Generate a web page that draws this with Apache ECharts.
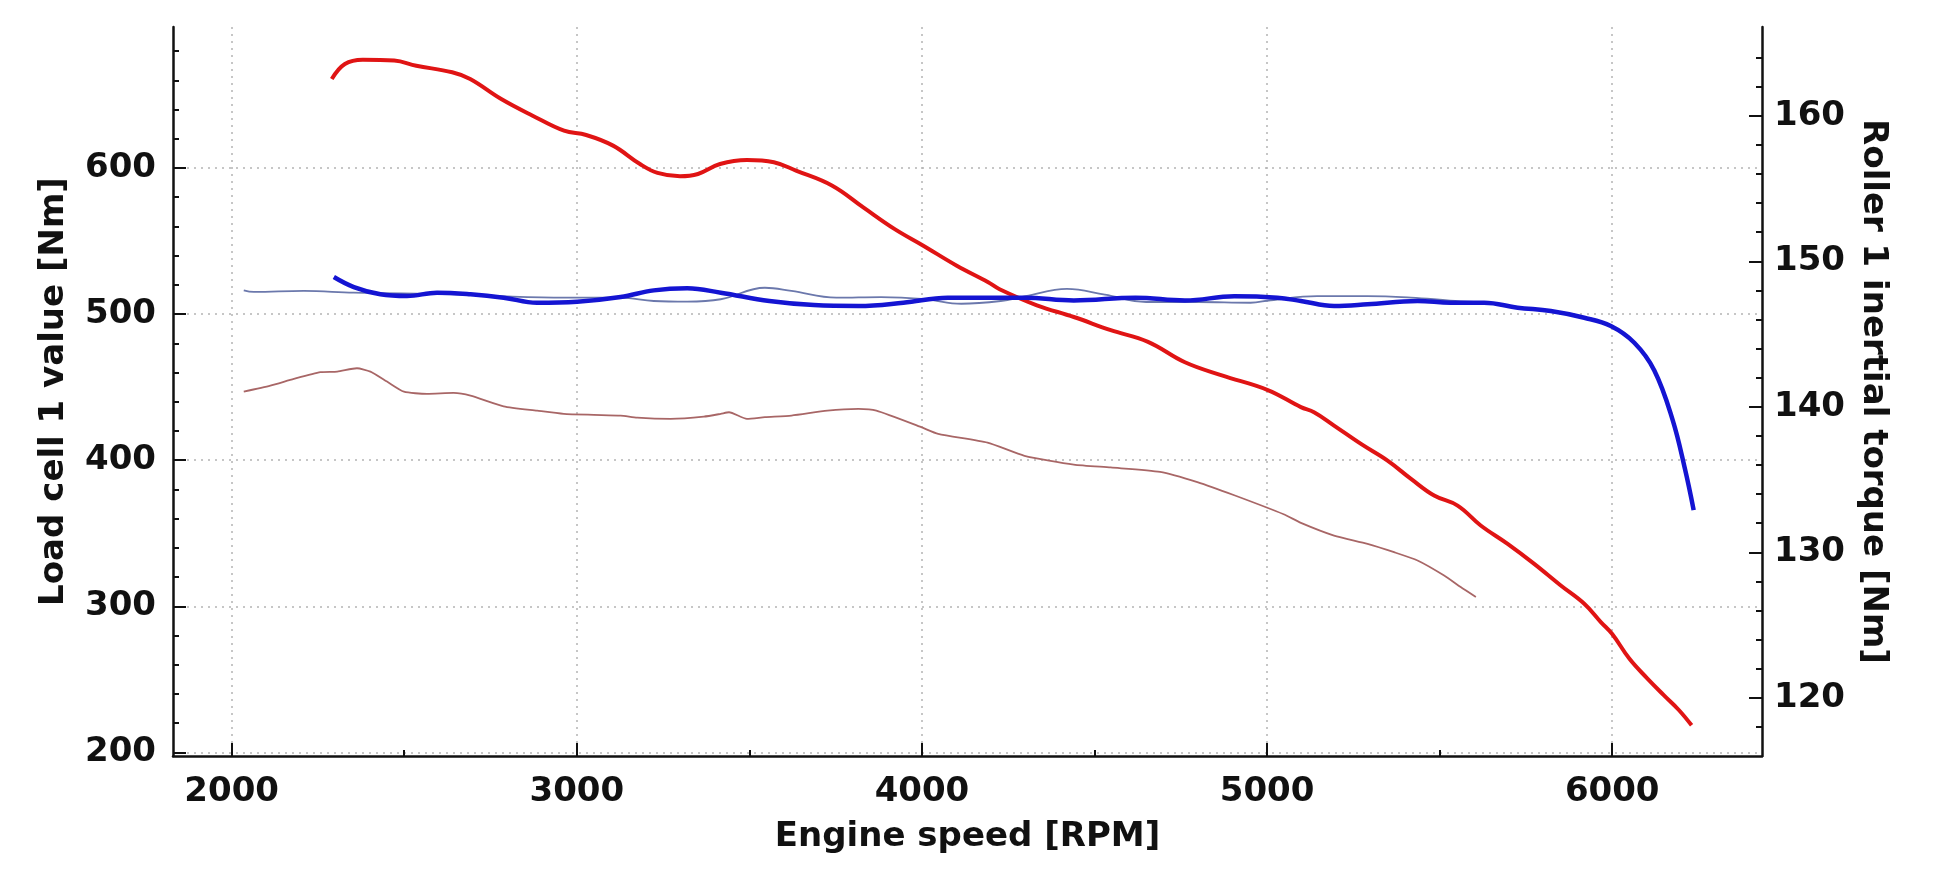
<!DOCTYPE html>
<html>
<head>
<meta charset="utf-8">
<script src="https://cdn.jsdelivr.net/npm/echarts@6/dist/echarts.min.js"></script>
<style>
  html, body { margin: 0; padding: 0; background: #fff; }
  #main { width: 1934px; height: 878px; }
</style>
</head>
<body>
<div id="main"></div>
<script>
// load cell, current run (thick red)
var redRpm = [2290, 2328, 2380, 2471, 2535, 2639, 2691, 2781, 2872, 2963, 3027, 3105, 3183, 3234, 3299, 3351, 3415, 3493, 3571, 3635, 3739, 3830, 3920, 4004, 4101, 4192, 4225, 4333, 4440, 4547, 4655, 4762, 4869, 5002, 5098, 5136, 5194, 5272, 5349, 5417, 5484, 5552, 5619, 5697, 5774, 5851, 5919, 5967, 6000, 6050, 6100, 6150, 6193, 6230];
var redNm = [660.9, 671.2, 674.1, 673.5, 670, 665.5, 660.9, 647.2, 635.8, 625.5, 622.6, 615.3, 602.7, 596.6, 594.3, 595.9, 602.7, 605.5, 603.9, 598.2, 588, 573, 558.3, 546.8, 533.1, 521.8, 517, 506, 498, 489, 481, 467, 458, 448, 436.3, 432.8, 423.7, 411.1, 399.7, 387.2, 375.8, 368.9, 355.3, 342.7, 329, 314.2, 301.7, 289.2, 281, 264, 251, 239, 229, 218.5];

// load cell, reference run (thin brown)
var brownRpm = [2035, 2112, 2180, 2257, 2306, 2363, 2402, 2450, 2499, 2566, 2643, 2692, 2788, 2885, 2962, 3049, 3127, 3175, 3272, 3368, 3417, 3441, 3493, 3545, 3622, 3726, 3816, 3868, 3998, 4047, 4190, 4297, 4440, 4547, 4690, 4798, 4905, 5048, 5098, 5194, 5291, 5368, 5436, 5513, 5561, 5605];
var brownNm = [446.9, 451, 455.6, 460.2, 460.6, 462.9, 460.6, 453.8, 446.9, 445.4, 446, 444.2, 436.9, 433.9, 431.7, 431, 430.5, 429.1, 428.3, 429.8, 431.7, 432.8, 428.3, 429.4, 430.5, 433.9, 435.1, 433.9, 422.6, 418, 412, 403, 397, 395, 392, 385, 376, 363, 357.1, 348.4, 342.7, 337, 331.3, 321, 313.1, 306.3];

// roller inertial torque, current run (thick blue)
var blueRpm = [2296, 2354, 2431, 2508, 2595, 2692, 2788, 2885, 3001, 3127, 3223, 3320, 3417, 3558, 3687, 3816, 3946, 4075, 4228, 4297, 4440, 4619, 4762, 4905, 5030, 5098, 5194, 5291, 5436, 5532, 5629, 5726, 5822, 5919, 5996, 6064, 6122, 6175, 6211, 6236];
var blueNm = [148.92, 148.23, 147.73, 147.61, 147.84, 147.73, 147.5, 147.15, 147.22, 147.54, 148.0, 148.14, 147.84, 147.27, 146.99, 146.93, 147.15, 147.5, 147.5, 147.5, 147.3, 147.5, 147.3, 147.6, 147.5, 147.27, 146.93, 147.04, 147.27, 147.15, 147.15, 146.81, 146.58, 146.12, 145.55, 144.4, 142.5, 139.1, 135.7, 132.9];

// roller inertial torque, reference run (thin grey-blue)
var greyRpm = [2035, 2064, 2209, 2354, 2643, 2933, 3127, 3223, 3320, 3417, 3545, 3622, 3752, 3881, 4011, 4114, 4228, 4300, 4420, 4530, 4650, 4800, 4952, 5010, 5145, 5291, 5417, 5530, 5600];
var greyNm = [148.0, 147.89, 147.96, 147.84, 147.73, 147.5, 147.5, 147.27, 147.22, 147.39, 148.18, 147.96, 147.5, 147.54, 147.39, 147.08, 147.27, 147.6, 148.1, 147.7, 147.2, 147.2, 147.15, 147.32, 147.6, 147.6, 147.5, 147.3, 147.2];

var xTicks = [2000, 3000, 4000, 5000, 6000];
var xMinor = [2500, 3500, 4500, 5500];
var leftTicks = [200, 300, 400, 500, 600];
var leftMinor = [220, 240, 260, 280, 320, 340, 360, 380, 420, 440, 460, 480, 520, 540, 560, 580, 620, 640, 660, 680];
var rightTicks = [120, 130, 140, 150, 160];
var rightMinor = [118, 122, 124, 126, 128, 132, 134, 136, 138, 142, 144, 146, 148, 152, 154, 156, 158, 162, 164];

function zip(a, b) {
  return a.map(function (v, i) { return [v, b[i]]; });
}

var font = 'DejaVu Sans';
var ink = '#111';
var labelStyle = { color: ink, fontFamily: font, fontWeight: 'bold', fontSize: 34 };
var dotted = { show: true, lineStyle: { color: '#b4b4b4', width: 1.5, type: [2, 5] } };
var plain = function (v) { return String(v); };

var chartDom = document.getElementById('main');
var myChart = echarts.init(chartDom, null, { renderer: 'canvas' });
var option;

option = {
  animation: false,
  backgroundColor: '#fff',
  grid: { left: 173, right: 172, top: 27, bottom: 122, containLabel: false, outerBoundsMode: 'none' },
  xAxis: [
    {
      type: 'value', min: 1830, max: 6434, position: 'bottom',
      name: 'Engine speed [RPM]', nameLocation: 'middle', nameGap: 64,
      nameTextStyle: labelStyle,
      axisLine: { show: true, onZero: false, lineStyle: { color: ink, width: 2.5 } },
      axisTick: { show: true, inside: true, length: 13, customValues: xTicks, lineStyle: { color: ink, width: 2 } },
      axisLabel: Object.assign({ margin: 19, customValues: xTicks, formatter: plain }, labelStyle),
      splitLine: dotted
    },
    {
      type: 'value', min: 1830, max: 6434, position: 'bottom',
      axisLine: { show: false },
      axisTick: { show: true, inside: true, length: 6, customValues: xMinor, lineStyle: { color: ink, width: 2 } },
      axisLabel: { show: false },
      splitLine: { show: false }
    }
  ],
  yAxis: [
    {
      type: 'value', min: 197.5, max: 696.5, position: 'left',
      name: 'Load cell 1 value [Nm]', nameLocation: 'middle', nameGap: 102,
      nameTextStyle: labelStyle,
      axisLine: { show: true, lineStyle: { color: ink, width: 2.5 } },
      axisTick: { show: true, inside: true, length: 13, customValues: leftTicks, lineStyle: { color: ink, width: 2 } },
      axisLabel: Object.assign({ margin: 17, customValues: leftTicks, formatter: plain }, labelStyle),
      splitLine: dotted
    },
    {
      type: 'value', min: 197.5, max: 696.5, position: 'left',
      axisLine: { show: false },
      axisTick: { show: true, inside: true, length: 6, customValues: leftMinor, lineStyle: { color: ink, width: 2 } },
      axisLabel: { show: false },
      splitLine: { show: false }
    },
    {
      type: 'value', min: 116, max: 166.1, position: 'right',
      name: 'Roller 1 inertial torque [Nm]', nameLocation: 'middle', nameGap: 94, nameRotate: -90,
      nameTextStyle: labelStyle,
      axisLine: { show: true, lineStyle: { color: ink, width: 2.5 } },
      axisTick: { show: true, inside: true, length: 13, customValues: rightTicks, lineStyle: { color: ink, width: 2 } },
      axisLabel: Object.assign({ margin: 12, customValues: rightTicks, formatter: plain }, labelStyle),
      splitLine: { show: false }
    },
    {
      type: 'value', min: 116, max: 166.1, position: 'right',
      axisLine: { show: false },
      axisTick: { show: true, inside: true, length: 6, customValues: rightMinor, lineStyle: { color: ink, width: 2 } },
      axisLabel: { show: false },
      splitLine: { show: false }
    }
  ],
  series: [
    {
      name: 'Load cell 1 (ref)', type: 'line', xAxisIndex: 0, yAxisIndex: 0,
      data: zip(brownRpm, brownNm), showSymbol: false, smooth: 0.2,
      lineStyle: { color: '#a86666', width: 1.8 }
    },
    {
      name: 'Roller 1 inertial (ref)', type: 'line', xAxisIndex: 0, yAxisIndex: 2,
      data: zip(greyRpm, greyNm), showSymbol: false, smooth: 0.4,
      lineStyle: { color: '#6b78ac', width: 1.8 }
    },
    {
      name: 'Load cell 1', type: 'line', xAxisIndex: 0, yAxisIndex: 0,
      data: zip(redRpm, redNm), showSymbol: false, smooth: 0.4,
      lineStyle: { color: '#e01414', width: 4 }
    },
    {
      name: 'Roller 1 inertial', type: 'line', xAxisIndex: 0, yAxisIndex: 2,
      data: zip(blueRpm, blueNm), showSymbol: false, smooth: 0.4,
      lineStyle: { color: '#1414d2', width: 4.5 }
    }
  ]
};

option && myChart.setOption(option);
</script>
</body>
</html>
